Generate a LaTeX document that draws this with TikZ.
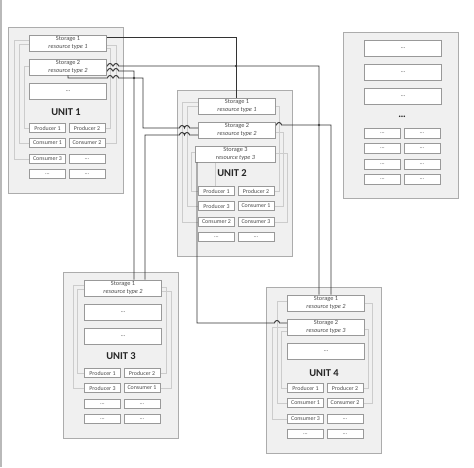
\documentclass[tikz,border=0pt]{standalone}
\usepackage{fontspec}
\setmainfont{Carlito}
\begin{document}
\begin{tikzpicture}[x=1pt,y=-1pt,
  unitbox/.style={draw=gray!65, fill=gray!12, line width=0.9pt, minimum width=115pt, minimum height=166pt, inner sep=0pt, anchor=north west},
  stor/.style={draw=gray!80, fill=white, line width=0.8pt, minimum width=77pt, minimum height=16pt, inner sep=0pt, align=center, font=\fontsize{6.3}{7.1}\selectfont, text=black!70},
  sm/.style={draw=gray!80, fill=white, line width=0.75pt, minimum width=36pt, minimum height=9pt, inner sep=0pt, font=\fontsize{5.9}{6}\selectfont, text=black!70},
  lbl/.style={font=\bfseries\fontsize{10.5}{10.5}\selectfont, text=black!85},
  wire/.style={draw=black!80, line width=0.9pt},
  gwire/.style={draw=gray!40, line width=0.75pt},
  jdot/.style={circle, fill=black!80, inner sep=0pt, minimum size=2.4pt}]
\useasboundingbox (0,0) rectangle (474,467);
\fill[white] (0,0) rectangle (474,467);
\draw[gray!55, line width=1.5pt] (0.75,0) -- (0.75,467);

% ---------- outer unit boxes ----------
\node[unitbox] (u1) at (8,27) {};
\node[unitbox] (u2) at (177,90) {};
\node[unitbox] (u3) at (63,272) {};
\node[unitbox] (u4) at (266,287) {};
\node[unitbox] (ur) at (343,32) {};

% ---------- gray internal wires ----------
% unit 1
\draw[gwire] (29.5,40) -- (14,40) -- (14,159) -- (29.5,159);
\draw[gwire] (29.5,44) -- (19,44) -- (19,143) -- (29.5,143);
\draw[gwire] (29.5,66) -- (24,66) -- (24,128) -- (29.5,128);
\draw[gwire] (106.5,45) -- (116,45) -- (116,143) -- (105.5,143);
\draw[gwire] (106.5,48) -- (110,48) -- (110,128) -- (105.5,128);
% unit 2
\draw[gwire] (198.5,102) -- (182,102) -- (182,222) -- (198.5,222);
\draw[gwire] (198.5,106) -- (187,106) -- (187,206) -- (198.5,206);
\draw[gwire] (195.5,152) -- (191,152) -- (191,191) -- (198.5,191);
\draw[gwire] (275.5,106) -- (279,106) -- (279,191) -- (274.5,191);
\draw[gwire] (275.5,132) -- (283,132) -- (283,206) -- (274.5,206);
\draw[gwire] (275.5,153) -- (287,153) -- (287,222) -- (274.5,222);
\draw[gwire] (215,162) -- (215,186.5);
% unit 3
\draw[gwire] (84.5,285) -- (73,285) -- (73,388) -- (84.5,388);
\draw[gwire] (84.5,289) -- (77,289) -- (77,373) -- (84.5,373);
\draw[gwire] (161.5,287) -- (166,287) -- (166,373) -- (160.5,373);
\draw[gwire] (161.5,291) -- (171,291) -- (171,388) -- (160.5,388);
% unit 4
\draw[gwire] (287.5,301) -- (277,301) -- (277,403) -- (287.5,403);
\draw[gwire] (287.5,327) -- (272,327) -- (272,419) -- (287.5,419);
\draw[gwire] (287.5,331) -- (281,331) -- (281,388) -- (287.5,388);
\draw[gwire] (364.5,303) -- (372,303) -- (372,403) -- (363.5,403);
\draw[gwire] (364.5,329) -- (368,329) -- (368,388) -- (363.5,388);

% ---------- unit 1 ----------
\node[stor] (u1s1) at (68,43) {Storage 1\\\textit{resource type 1}};
\node[stor] (u1s2) at (68,67) {Storage 2\\\textit{resource type 2}};
\node[stor] (u1s3) at (68,91) {\ldots};
\node[lbl] (u1l) at (66,112) {UNIT 1};
\node[sm] (u1a) at (47.5,128) {Producer 1};
\node[sm] (u1b) at (87,128) {Producer 2};
\node[sm] (u1c) at (47.5,143) {Consumer 1};
\node[sm] (u1d) at (87,143) {Consumer 2};
\node[sm] (u1e) at (47.5,159) {Consumer 3};
\node[sm] (u1f) at (87,159) {\ldots};
\node[sm] (u1g) at (47.5,174) {\ldots};
\node[sm] (u1h) at (87,174) {\ldots};

% ---------- unit 2 ----------
\node[stor] (u2s1) at (237,106) {Storage 1\\\textit{resource type 1}};
\node[stor] (u2s2) at (237,130) {Storage 2\\\textit{resource type 2}};
\node[stor, minimum width=80pt] (u2s3) at (235.5,154) {Storage 3\\\textit{resource type 3}};
\node[lbl] (u2l) at (232,173) {UNIT 2};
\node[sm] (u2a) at (216.5,191) {Producer 1};
\node[sm] (u2b) at (256,191) {Producer 2};
\node[sm] (u2c) at (216.5,206) {Producer 3};
\node[sm] (u2d) at (256,206) {Consumer 1};
\node[sm] (u2e) at (216.5,222) {Consumer 2};
\node[sm] (u2f) at (256,222) {Consumer 3};
\node[sm] (u2g) at (216.5,237) {\ldots};
\node[sm] (u2h) at (256,237) {\ldots};

% ---------- unit 3 ----------
\node[stor] (u3s1) at (123,288) {Storage 1\\\textit{resource type 2}};
\node[stor] (u3s2) at (123,312) {\ldots};
\node[stor] (u3s3) at (123,336) {\ldots};
\node[lbl] (u3l) at (121,356) {UNIT 3};
\node[sm] (u3a) at (102.5,373) {Producer 1};
\node[sm] (u3b) at (142,373) {Producer 2};
\node[sm] (u3c) at (102.5,388) {Producer 3};
\node[sm] (u3d) at (142,388) {Consumer 1};
\node[sm] (u3e) at (102.5,404) {\ldots};
\node[sm] (u3f) at (142,404) {\ldots};
\node[sm] (u3g) at (102.5,419) {\ldots};
\node[sm] (u3h) at (142,419) {\ldots};

% ---------- unit 4 ----------
\node[stor] (u4s1) at (326,303) {Storage 1\\\textit{resource type 2}};
\node[stor] (u4s2) at (326,327) {Storage 2\\\textit{resource type 3}};
\node[stor] (u4s3) at (326,351) {\ldots};
\node[lbl] (u4l) at (324,373) {UNIT 4};
\node[sm] (u4a) at (305.5,388) {Producer 1};
\node[sm] (u4b) at (345,388) {Producer 2};
\node[sm] (u4c) at (305.5,403) {Consumer 1};
\node[sm] (u4d) at (345,403) {Consumer 2};
\node[sm] (u4e) at (305.5,419) {Consumer 3};
\node[sm] (u4f) at (345,419) {\ldots};
\node[sm] (u4g) at (305.5,434) {\ldots};
\node[sm] (u4h) at (345,434) {\ldots};

% ---------- right (generic) unit ----------
\node[stor] (urs1) at (403,48) {\ldots};
\node[stor] (urs2) at (403,72) {\ldots};
\node[stor] (urs3) at (403,96) {\ldots};
\node[lbl] (url) at (402,117) {\ldots};
\node[sm, minimum height=10pt] (ura) at (382.5,133) {\ldots};
\node[sm, minimum height=10pt] (urb) at (422,133) {\ldots};
\node[sm, minimum height=10pt] (urc) at (382.5,148) {\ldots};
\node[sm, minimum height=10pt] (urd) at (422,148) {\ldots};
\node[sm, minimum height=10pt] (ure) at (382.5,164) {\ldots};
\node[sm, minimum height=10pt] (urf) at (422,164) {\ldots};
\node[sm, minimum height=10pt] (urg) at (382.5,179) {\ldots};
\node[sm, minimum height=10pt] (urh) at (422,179) {\ldots};

% ---------- dark connectors between units ----------
% resource type 1: U1 S1 -> U2 S1
\draw[wire] (u1s1.east |- 0,37) -- (236,37) -- (u2s1.north -| 236,0);
% resource type 2: U1 S2 -> U4 S1
\draw[wire] (u1s2.east |- 0,66) -- (107.5,66)
  arc[start angle=180,end angle=0,radius=2.5pt] -- (113.5,66)
  arc[start angle=180,end angle=0,radius=2.5pt] -- (319,66) -- (u4s1.north -| 319,0);
% U1 S2 -> U3 S1
\draw[wire] (u1s2.east |- 0,71) -- (107.5,71)
  arc[start angle=180,end angle=0,radius=2.5pt] -- (113.5,71)
  arc[start angle=180,end angle=0,radius=2.5pt] -- (134,71) -- (u3s1.north -| 134,0);
% U1 S2 -> U2 S2
\draw[wire] (u1s2.south -| 68,0) -- (68,78) -- (107.5,78)
  arc[start angle=180,end angle=0,radius=2.5pt] -- (113.5,78)
  arc[start angle=180,end angle=0,radius=2.5pt] -- (143,78) -- (143,128) -- (179.5,128)
  arc[start angle=180,end angle=0,radius=2.5pt] -- (184.5,128)
  arc[start angle=180,end angle=0,radius=2.5pt] -- (u2s2.west |- 0,128);
% U3 S1 -> U2 S2
\draw[wire] (u3s1.north -| 145,0) -- (145,135) -- (179.5,135)
  arc[start angle=180,end angle=0,radius=2.5pt] -- (184.5,135)
  arc[start angle=180,end angle=0,radius=2.5pt] -- (u2s2.west |- 0,135);
% U2 S2 -> U4 S1
\draw[wire] (u2s2.east |- 0,125) -- (276.5,125)
  arc[start angle=180,end angle=0,radius=2.5pt] -- (331,125) -- (u4s1.north -| 331,0);
% resource type 3: U2 S3 -> U4 S2
\draw[wire] (u2s3.south -| 197,0) -- (197,323) -- (274.5,323)
  arc[start angle=180,end angle=0,radius=2.5pt] -- (u4s2.west |- 0,323);

% junction dots
\node[jdot] (j1) at (236,66) {};
\node[jdot] (j2) at (134,78) {};
\node[jdot] (j3) at (319,125) {};
\end{tikzpicture}
\end{document}
